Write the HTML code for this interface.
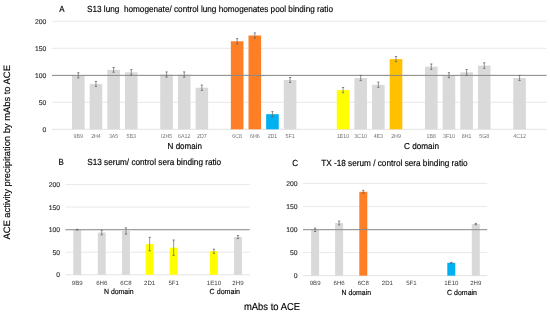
<!DOCTYPE html>
<html><head><meta charset="utf-8"><style>
html,body{margin:0;padding:0;background:#fff;}
body{width:550px;height:314px;overflow:hidden;}
svg{display:block;will-change:transform;filter:blur(0.3px);}
text{font-family:"Liberation Sans",sans-serif;text-rendering:geometricPrecision;}
.t{stroke:#000;stroke-width:0.15px;}
</style></head><body>
<svg width="550" height="314" viewBox="0 0 550 314">
<rect width="550" height="314" fill="#fff"/>
<line x1="52.00" y1="129.30" x2="546.50" y2="129.30" stroke="#e3e3e3" stroke-width="1"/>
<text x="46.40" y="131.75" font-size="6.8" fill="#333333" text-anchor="end" stroke="#333333" stroke-width="0.15">0</text>
<line x1="52.00" y1="102.30" x2="546.50" y2="102.30" stroke="#e3e3e3" stroke-width="0.8"/>
<text x="46.40" y="104.75" font-size="6.8" fill="#333333" text-anchor="end" stroke="#333333" stroke-width="0.15">50</text>
<line x1="52.00" y1="75.30" x2="546.50" y2="75.30" stroke="#e3e3e3" stroke-width="0.8"/>
<text x="46.40" y="77.75" font-size="6.8" fill="#333333" text-anchor="end" stroke="#333333" stroke-width="0.15">100</text>
<line x1="52.00" y1="48.30" x2="546.50" y2="48.30" stroke="#e3e3e3" stroke-width="0.8"/>
<text x="46.40" y="50.75" font-size="6.8" fill="#333333" text-anchor="end" stroke="#333333" stroke-width="0.15">150</text>
<line x1="52.00" y1="21.30" x2="546.50" y2="21.30" stroke="#e3e3e3" stroke-width="0.8"/>
<text x="46.40" y="23.75" font-size="6.8" fill="#333333" text-anchor="end" stroke="#333333" stroke-width="0.15">200</text>
<rect x="72.00" y="75.30" width="12.60" height="54.00" fill="#d9d9d9"/>
<text transform="translate(78.30,138) scale(0.9,1)" font-size="5.85" fill="#707070" text-anchor="middle">9B9</text>
<rect x="89.65" y="83.94" width="12.60" height="45.36" fill="#d9d9d9"/>
<text transform="translate(95.95,138) scale(0.9,1)" font-size="5.85" fill="#707070" text-anchor="middle">2H4</text>
<rect x="107.30" y="69.90" width="12.60" height="59.40" fill="#d9d9d9"/>
<text transform="translate(113.60,138) scale(0.9,1)" font-size="5.85" fill="#707070" text-anchor="middle">3A5</text>
<rect x="124.95" y="72.33" width="12.60" height="56.97" fill="#d9d9d9"/>
<text transform="translate(131.25,138) scale(0.9,1)" font-size="5.85" fill="#707070" text-anchor="middle">5B3</text>
<rect x="160.25" y="74.49" width="12.60" height="54.81" fill="#d9d9d9"/>
<text transform="translate(166.55,138) scale(0.9,1)" font-size="5.85" fill="#707070" text-anchor="middle">I2H5</text>
<rect x="177.90" y="74.49" width="12.60" height="54.81" fill="#d9d9d9"/>
<text transform="translate(184.20,138) scale(0.9,1)" font-size="5.85" fill="#707070" text-anchor="middle">6A12</text>
<rect x="195.55" y="87.72" width="12.60" height="41.58" fill="#d9d9d9"/>
<text transform="translate(201.85,138) scale(0.9,1)" font-size="5.85" fill="#707070" text-anchor="middle">2D7</text>
<rect x="230.85" y="41.28" width="12.60" height="88.02" fill="#ff7f27"/>
<text transform="translate(237.15,138) scale(0.9,1)" font-size="5.85" fill="#707070" text-anchor="middle">6C8</text>
<rect x="248.50" y="35.50" width="12.60" height="93.80" fill="#ff7f27"/>
<text transform="translate(254.80,138) scale(0.9,1)" font-size="5.85" fill="#707070" text-anchor="middle">6H6</text>
<rect x="266.15" y="114.18" width="12.60" height="15.12" fill="#00b0f0"/>
<text transform="translate(272.45,138) scale(0.9,1)" font-size="5.85" fill="#707070" text-anchor="middle">2D1</text>
<rect x="283.80" y="80.00" width="12.60" height="49.30" fill="#d9d9d9"/>
<text transform="translate(290.10,138) scale(0.9,1)" font-size="5.85" fill="#707070" text-anchor="middle">5F1</text>
<rect x="336.75" y="90.10" width="12.60" height="39.20" fill="#ffff00"/>
<text transform="translate(343.05,138) scale(0.9,1)" font-size="5.85" fill="#707070" text-anchor="middle">1E10</text>
<rect x="354.40" y="78.00" width="12.60" height="51.30" fill="#d9d9d9"/>
<text transform="translate(360.70,138) scale(0.9,1)" font-size="5.85" fill="#707070" text-anchor="middle">3C10</text>
<rect x="372.05" y="84.75" width="12.60" height="44.55" fill="#d9d9d9"/>
<text transform="translate(378.35,138) scale(0.9,1)" font-size="5.85" fill="#707070" text-anchor="middle">4E3</text>
<rect x="389.70" y="59.10" width="12.60" height="70.20" fill="#ffc000"/>
<text transform="translate(396.00,138) scale(0.9,1)" font-size="5.85" fill="#707070" text-anchor="middle">2H9</text>
<rect x="425.00" y="66.66" width="12.60" height="62.64" fill="#d9d9d9"/>
<text transform="translate(431.30,138) scale(0.9,1)" font-size="5.85" fill="#707070" text-anchor="middle">1B8</text>
<rect x="442.65" y="75.19" width="12.60" height="54.11" fill="#d9d9d9"/>
<text transform="translate(448.95,138) scale(0.9,1)" font-size="5.85" fill="#707070" text-anchor="middle">3F10</text>
<rect x="460.30" y="72.33" width="12.60" height="56.97" fill="#d9d9d9"/>
<text transform="translate(466.60,138) scale(0.9,1)" font-size="5.85" fill="#707070" text-anchor="middle">8H1</text>
<rect x="477.95" y="65.58" width="12.60" height="63.72" fill="#d9d9d9"/>
<text transform="translate(484.25,138) scale(0.9,1)" font-size="5.85" fill="#707070" text-anchor="middle">5G8</text>
<rect x="513.25" y="78.00" width="12.60" height="51.30" fill="#d9d9d9"/>
<text transform="translate(519.55,138) scale(0.9,1)" font-size="5.85" fill="#707070" text-anchor="middle">4C12</text>
<line x1="52.00" y1="75.40" x2="546.50" y2="75.40" stroke="#8a8a8a" stroke-width="1.0"/>
<line x1="78.30" y1="72.72" x2="78.30" y2="77.88" stroke="#666666" stroke-width="0.7"/>
<line x1="77.20" y1="72.72" x2="79.40" y2="72.72" stroke="#666666" stroke-width="0.8"/>
<line x1="77.20" y1="77.88" x2="79.40" y2="77.88" stroke="#666666" stroke-width="0.8"/>
<line x1="95.95" y1="81.46" x2="95.95" y2="86.42" stroke="#666666" stroke-width="0.7"/>
<line x1="94.85" y1="81.46" x2="97.05" y2="81.46" stroke="#666666" stroke-width="0.8"/>
<line x1="94.85" y1="86.42" x2="97.05" y2="86.42" stroke="#666666" stroke-width="0.8"/>
<line x1="113.60" y1="67.52" x2="113.60" y2="72.28" stroke="#666666" stroke-width="0.7"/>
<line x1="112.50" y1="67.52" x2="114.70" y2="67.52" stroke="#666666" stroke-width="0.8"/>
<line x1="112.50" y1="72.28" x2="114.70" y2="72.28" stroke="#666666" stroke-width="0.8"/>
<line x1="131.25" y1="69.66" x2="131.25" y2="75.00" stroke="#666666" stroke-width="0.7"/>
<line x1="130.15" y1="69.66" x2="132.35" y2="69.66" stroke="#666666" stroke-width="0.8"/>
<line x1="130.15" y1="75.00" x2="132.35" y2="75.00" stroke="#666666" stroke-width="0.8"/>
<line x1="166.55" y1="71.91" x2="166.55" y2="77.07" stroke="#666666" stroke-width="0.7"/>
<line x1="165.45" y1="71.91" x2="167.65" y2="71.91" stroke="#666666" stroke-width="0.8"/>
<line x1="165.45" y1="77.07" x2="167.65" y2="77.07" stroke="#666666" stroke-width="0.8"/>
<line x1="184.20" y1="71.91" x2="184.20" y2="77.07" stroke="#666666" stroke-width="0.7"/>
<line x1="183.10" y1="71.91" x2="185.30" y2="71.91" stroke="#666666" stroke-width="0.8"/>
<line x1="183.10" y1="77.07" x2="185.30" y2="77.07" stroke="#666666" stroke-width="0.8"/>
<line x1="201.85" y1="85.10" x2="201.85" y2="90.34" stroke="#666666" stroke-width="0.7"/>
<line x1="200.75" y1="85.10" x2="202.95" y2="85.10" stroke="#666666" stroke-width="0.8"/>
<line x1="200.75" y1="90.34" x2="202.95" y2="90.34" stroke="#666666" stroke-width="0.8"/>
<line x1="237.15" y1="38.66" x2="237.15" y2="43.90" stroke="#666666" stroke-width="0.7"/>
<line x1="236.05" y1="38.66" x2="238.25" y2="38.66" stroke="#666666" stroke-width="0.8"/>
<line x1="236.05" y1="43.90" x2="238.25" y2="43.90" stroke="#666666" stroke-width="0.8"/>
<line x1="254.80" y1="32.93" x2="254.80" y2="38.08" stroke="#666666" stroke-width="0.7"/>
<line x1="253.70" y1="32.93" x2="255.90" y2="32.93" stroke="#666666" stroke-width="0.8"/>
<line x1="253.70" y1="38.08" x2="255.90" y2="38.08" stroke="#666666" stroke-width="0.8"/>
<line x1="272.45" y1="111.65" x2="272.45" y2="116.71" stroke="#666666" stroke-width="0.7"/>
<line x1="271.35" y1="111.65" x2="273.55" y2="111.65" stroke="#666666" stroke-width="0.8"/>
<line x1="271.35" y1="116.71" x2="273.55" y2="116.71" stroke="#666666" stroke-width="0.8"/>
<line x1="290.10" y1="77.52" x2="290.10" y2="82.48" stroke="#666666" stroke-width="0.7"/>
<line x1="289.00" y1="77.52" x2="291.20" y2="77.52" stroke="#666666" stroke-width="0.8"/>
<line x1="289.00" y1="82.48" x2="291.20" y2="82.48" stroke="#666666" stroke-width="0.8"/>
<line x1="343.05" y1="87.47" x2="343.05" y2="92.72" stroke="#666666" stroke-width="0.7"/>
<line x1="341.95" y1="87.47" x2="344.15" y2="87.47" stroke="#666666" stroke-width="0.8"/>
<line x1="341.95" y1="92.72" x2="344.15" y2="92.72" stroke="#666666" stroke-width="0.8"/>
<line x1="360.70" y1="75.42" x2="360.70" y2="80.58" stroke="#666666" stroke-width="0.7"/>
<line x1="359.60" y1="75.42" x2="361.80" y2="75.42" stroke="#666666" stroke-width="0.8"/>
<line x1="359.60" y1="80.58" x2="361.80" y2="80.58" stroke="#666666" stroke-width="0.8"/>
<line x1="378.35" y1="82.13" x2="378.35" y2="87.37" stroke="#666666" stroke-width="0.7"/>
<line x1="377.25" y1="82.13" x2="379.45" y2="82.13" stroke="#666666" stroke-width="0.8"/>
<line x1="377.25" y1="87.37" x2="379.45" y2="87.37" stroke="#666666" stroke-width="0.8"/>
<line x1="396.00" y1="56.52" x2="396.00" y2="61.68" stroke="#666666" stroke-width="0.7"/>
<line x1="394.90" y1="56.52" x2="397.10" y2="56.52" stroke="#666666" stroke-width="0.8"/>
<line x1="394.90" y1="61.68" x2="397.10" y2="61.68" stroke="#666666" stroke-width="0.8"/>
<line x1="431.30" y1="63.99" x2="431.30" y2="69.33" stroke="#666666" stroke-width="0.7"/>
<line x1="430.20" y1="63.99" x2="432.40" y2="63.99" stroke="#666666" stroke-width="0.8"/>
<line x1="430.20" y1="69.33" x2="432.40" y2="69.33" stroke="#666666" stroke-width="0.8"/>
<line x1="448.95" y1="72.66" x2="448.95" y2="77.72" stroke="#666666" stroke-width="0.7"/>
<line x1="447.85" y1="72.66" x2="450.05" y2="72.66" stroke="#666666" stroke-width="0.8"/>
<line x1="447.85" y1="77.72" x2="450.05" y2="77.72" stroke="#666666" stroke-width="0.8"/>
<line x1="466.60" y1="69.51" x2="466.60" y2="75.15" stroke="#666666" stroke-width="0.7"/>
<line x1="465.50" y1="69.51" x2="467.70" y2="69.51" stroke="#666666" stroke-width="0.8"/>
<line x1="465.50" y1="75.15" x2="467.70" y2="75.15" stroke="#666666" stroke-width="0.8"/>
<line x1="484.25" y1="62.81" x2="484.25" y2="68.35" stroke="#666666" stroke-width="0.7"/>
<line x1="483.15" y1="62.81" x2="485.35" y2="62.81" stroke="#666666" stroke-width="0.8"/>
<line x1="483.15" y1="68.35" x2="485.35" y2="68.35" stroke="#666666" stroke-width="0.8"/>
<line x1="519.55" y1="75.52" x2="519.55" y2="80.48" stroke="#666666" stroke-width="0.7"/>
<line x1="518.45" y1="75.52" x2="520.65" y2="75.52" stroke="#666666" stroke-width="0.8"/>
<line x1="518.45" y1="80.48" x2="520.65" y2="80.48" stroke="#666666" stroke-width="0.8"/>
<line x1="65.50" y1="274.80" x2="249.70" y2="274.80" stroke="#e3e3e3" stroke-width="1"/>
<text x="60.00" y="277.25" font-size="6.8" fill="#333333" text-anchor="end" stroke="#333333" stroke-width="0.15">0</text>
<line x1="65.50" y1="252.23" x2="249.70" y2="252.23" stroke="#e3e3e3" stroke-width="0.8"/>
<text x="60.00" y="254.67" font-size="6.8" fill="#333333" text-anchor="end" stroke="#333333" stroke-width="0.15">50</text>
<line x1="65.50" y1="229.65" x2="249.70" y2="229.65" stroke="#e3e3e3" stroke-width="0.8"/>
<text x="60.00" y="232.10" font-size="6.8" fill="#333333" text-anchor="end" stroke="#333333" stroke-width="0.15">100</text>
<line x1="65.50" y1="207.07" x2="249.70" y2="207.07" stroke="#e3e3e3" stroke-width="0.8"/>
<text x="60.00" y="209.52" font-size="6.8" fill="#333333" text-anchor="end" stroke="#333333" stroke-width="0.15">150</text>
<line x1="65.50" y1="184.50" x2="249.70" y2="184.50" stroke="#e3e3e3" stroke-width="0.8"/>
<text x="60.00" y="186.95" font-size="6.8" fill="#333333" text-anchor="end" stroke="#333333" stroke-width="0.15">200</text>
<rect x="73.30" y="229.65" width="7.90" height="45.15" fill="#d9d9d9"/>
<text x="77.25" y="284.50" font-size="6.1" fill="#404040" text-anchor="middle" >9B9</text>
<rect x="97.80" y="232.49" width="7.90" height="42.31" fill="#d9d9d9"/>
<text x="101.75" y="284.50" font-size="6.1" fill="#404040" text-anchor="middle" >6H6</text>
<rect x="122.00" y="231.00" width="7.90" height="43.80" fill="#d9d9d9"/>
<text x="125.95" y="284.50" font-size="6.1" fill="#404040" text-anchor="middle" >6C8</text>
<rect x="145.70" y="244.10" width="7.90" height="30.70" fill="#ffff00"/>
<text x="149.65" y="284.50" font-size="6.1" fill="#404040" text-anchor="middle" >2D1</text>
<rect x="169.70" y="247.71" width="7.90" height="27.09" fill="#ffff00"/>
<text x="173.65" y="284.50" font-size="6.1" fill="#404040" text-anchor="middle" >5F1</text>
<rect x="210.00" y="251.19" width="7.90" height="23.61" fill="#ffff00"/>
<text x="213.95" y="284.50" font-size="6.1" fill="#404040" text-anchor="middle" >1E10</text>
<rect x="234.00" y="237.01" width="7.90" height="37.79" fill="#d9d9d9"/>
<text x="237.95" y="284.50" font-size="6.1" fill="#404040" text-anchor="middle" >2H9</text>
<line x1="65.50" y1="229.75" x2="249.70" y2="229.75" stroke="#8a8a8a" stroke-width="1.0"/>
<line x1="77.25" y1="229.29" x2="77.25" y2="230.01" stroke="#666666" stroke-width="0.7"/>
<line x1="76.15" y1="229.29" x2="78.35" y2="229.29" stroke="#666666" stroke-width="0.8"/>
<line x1="76.15" y1="230.01" x2="78.35" y2="230.01" stroke="#666666" stroke-width="0.8"/>
<line x1="101.75" y1="230.24" x2="101.75" y2="234.75" stroke="#666666" stroke-width="0.7"/>
<line x1="100.65" y1="230.24" x2="102.85" y2="230.24" stroke="#666666" stroke-width="0.8"/>
<line x1="100.65" y1="234.75" x2="102.85" y2="234.75" stroke="#666666" stroke-width="0.8"/>
<line x1="125.95" y1="227.84" x2="125.95" y2="234.17" stroke="#666666" stroke-width="0.7"/>
<line x1="124.85" y1="227.84" x2="127.05" y2="227.84" stroke="#666666" stroke-width="0.8"/>
<line x1="124.85" y1="234.17" x2="127.05" y2="234.17" stroke="#666666" stroke-width="0.8"/>
<line x1="149.65" y1="237.33" x2="149.65" y2="250.87" stroke="#666666" stroke-width="0.7"/>
<line x1="148.55" y1="237.33" x2="150.75" y2="237.33" stroke="#666666" stroke-width="0.8"/>
<line x1="148.55" y1="250.87" x2="150.75" y2="250.87" stroke="#666666" stroke-width="0.8"/>
<line x1="173.65" y1="240.03" x2="173.65" y2="255.39" stroke="#666666" stroke-width="0.7"/>
<line x1="172.55" y1="240.03" x2="174.75" y2="240.03" stroke="#666666" stroke-width="0.8"/>
<line x1="172.55" y1="255.39" x2="174.75" y2="255.39" stroke="#666666" stroke-width="0.8"/>
<line x1="213.95" y1="249.15" x2="213.95" y2="253.22" stroke="#666666" stroke-width="0.7"/>
<line x1="212.85" y1="249.15" x2="215.05" y2="249.15" stroke="#666666" stroke-width="0.8"/>
<line x1="212.85" y1="253.22" x2="215.05" y2="253.22" stroke="#666666" stroke-width="0.8"/>
<line x1="237.95" y1="235.52" x2="237.95" y2="238.50" stroke="#666666" stroke-width="0.7"/>
<line x1="236.85" y1="235.52" x2="239.05" y2="235.52" stroke="#666666" stroke-width="0.8"/>
<line x1="236.85" y1="238.50" x2="239.05" y2="238.50" stroke="#666666" stroke-width="0.8"/>
<line x1="303.00" y1="275.70" x2="487.20" y2="275.70" stroke="#e3e3e3" stroke-width="1"/>
<text x="297.50" y="278.15" font-size="6.8" fill="#333333" text-anchor="end" stroke="#333333" stroke-width="0.15">0</text>
<line x1="303.00" y1="252.65" x2="487.20" y2="252.65" stroke="#e3e3e3" stroke-width="0.8"/>
<text x="297.50" y="255.10" font-size="6.8" fill="#333333" text-anchor="end" stroke="#333333" stroke-width="0.15">50</text>
<line x1="303.00" y1="229.60" x2="487.20" y2="229.60" stroke="#e3e3e3" stroke-width="0.8"/>
<text x="297.50" y="232.05" font-size="6.8" fill="#333333" text-anchor="end" stroke="#333333" stroke-width="0.15">100</text>
<line x1="303.00" y1="206.55" x2="487.20" y2="206.55" stroke="#e3e3e3" stroke-width="0.8"/>
<text x="297.50" y="209.00" font-size="6.8" fill="#333333" text-anchor="end" stroke="#333333" stroke-width="0.15">150</text>
<line x1="303.00" y1="183.50" x2="487.20" y2="183.50" stroke="#e3e3e3" stroke-width="0.8"/>
<text x="297.50" y="185.95" font-size="6.8" fill="#333333" text-anchor="end" stroke="#333333" stroke-width="0.15">200</text>
<rect x="311.10" y="229.78" width="8.00" height="45.92" fill="#d9d9d9"/>
<text x="315.10" y="284.70" font-size="6.1" fill="#404040" text-anchor="middle" >9B9</text>
<rect x="335.10" y="223.01" width="8.00" height="52.69" fill="#d9d9d9"/>
<text x="339.10" y="284.70" font-size="6.1" fill="#404040" text-anchor="middle" >6H6</text>
<rect x="359.30" y="191.80" width="8.00" height="83.90" fill="#ff7f27"/>
<text x="363.30" y="284.70" font-size="6.1" fill="#404040" text-anchor="middle" >6C8</text>
<text x="387.40" y="284.70" font-size="6.1" fill="#404040" text-anchor="middle" >2D1</text>
<text x="411.50" y="284.70" font-size="6.1" fill="#404040" text-anchor="middle" >5F1</text>
<rect x="447.30" y="262.79" width="8.00" height="12.91" fill="#00b0f0"/>
<text x="451.30" y="284.70" font-size="6.1" fill="#404040" text-anchor="middle" >1E10</text>
<rect x="471.80" y="224.07" width="8.00" height="51.63" fill="#d9d9d9"/>
<text x="475.80" y="284.70" font-size="6.1" fill="#404040" text-anchor="middle" >2H9</text>
<line x1="303.00" y1="229.70" x2="487.20" y2="229.70" stroke="#8a8a8a" stroke-width="1.0"/>
<line x1="315.10" y1="228.08" x2="315.10" y2="231.49" stroke="#666666" stroke-width="0.7"/>
<line x1="314.00" y1="228.08" x2="316.20" y2="228.08" stroke="#666666" stroke-width="0.8"/>
<line x1="314.00" y1="231.49" x2="316.20" y2="231.49" stroke="#666666" stroke-width="0.8"/>
<line x1="339.10" y1="221.12" x2="339.10" y2="224.90" stroke="#666666" stroke-width="0.7"/>
<line x1="338.00" y1="221.12" x2="340.20" y2="221.12" stroke="#666666" stroke-width="0.8"/>
<line x1="338.00" y1="224.90" x2="340.20" y2="224.90" stroke="#666666" stroke-width="0.8"/>
<line x1="363.30" y1="190.32" x2="363.30" y2="193.27" stroke="#666666" stroke-width="0.7"/>
<line x1="362.20" y1="190.32" x2="364.40" y2="190.32" stroke="#666666" stroke-width="0.8"/>
<line x1="362.20" y1="193.27" x2="364.40" y2="193.27" stroke="#666666" stroke-width="0.8"/>
<line x1="451.30" y1="262.33" x2="451.30" y2="263.25" stroke="#666666" stroke-width="0.7"/>
<line x1="450.20" y1="262.33" x2="452.40" y2="262.33" stroke="#666666" stroke-width="0.8"/>
<line x1="450.20" y1="263.25" x2="452.40" y2="263.25" stroke="#666666" stroke-width="0.8"/>
<line x1="475.80" y1="223.38" x2="475.80" y2="224.76" stroke="#666666" stroke-width="0.7"/>
<line x1="474.70" y1="223.38" x2="476.90" y2="223.38" stroke="#666666" stroke-width="0.8"/>
<line x1="474.70" y1="224.76" x2="476.90" y2="224.76" stroke="#666666" stroke-width="0.8"/>
<text x="59.20" y="11.70" font-size="8.86" fill="#000" text-anchor="start" class="t" textLength="5.3" lengthAdjust="spacingAndGlyphs" >A</text>
<text x="87.00" y="11.70" font-size="8.86" fill="#000" text-anchor="start" class="t" textLength="246" lengthAdjust="spacingAndGlyphs" >S13 lung&#160; homogenate/ control lung homogenates pool binding ratio</text>
<text x="58.60" y="165.00" font-size="8.86" fill="#000" text-anchor="start" class="t" textLength="5.3" lengthAdjust="spacingAndGlyphs" >B</text>
<text x="87.20" y="165.00" font-size="8.86" fill="#000" text-anchor="start" class="t" textLength="134" lengthAdjust="spacingAndGlyphs" >S13 serum/ control sera binding ratio</text>
<text x="292.20" y="166.00" font-size="8.86" fill="#000" text-anchor="start" class="t" textLength="5.9" lengthAdjust="spacingAndGlyphs" >C</text>
<text x="321.20" y="166.00" font-size="8.86" fill="#000" text-anchor="start" class="t" textLength="146.4" lengthAdjust="spacingAndGlyphs" >TX -18 serum / control sera binding ratio</text>
<text x="167.60" y="149.00" font-size="8.64" fill="#000" text-anchor="start" class="t" textLength="34.4" lengthAdjust="spacingAndGlyphs" >N domain</text>
<text x="404.00" y="149.00" font-size="8.64" fill="#000" text-anchor="start" class="t" textLength="35" lengthAdjust="spacingAndGlyphs" >C domain</text>
<text x="104.00" y="294.00" font-size="7.45" fill="#000" text-anchor="start" class="t" textLength="29.6" lengthAdjust="spacingAndGlyphs" >N domain</text>
<text x="209.60" y="294.00" font-size="7.45" fill="#000" text-anchor="start" class="t" textLength="30.4" lengthAdjust="spacingAndGlyphs" >C domain</text>
<text x="341.60" y="294.60" font-size="7.45" fill="#000" text-anchor="start" class="t" textLength="29.4" lengthAdjust="spacingAndGlyphs" >N domain</text>
<text x="447.00" y="294.60" font-size="7.45" fill="#000" text-anchor="start" class="t" textLength="30" lengthAdjust="spacingAndGlyphs" >C domain</text>
<text x="244.00" y="310.30" font-size="10.04" fill="#000" text-anchor="start" class="t" textLength="56" lengthAdjust="spacingAndGlyphs" >mAbs to ACE</text>
<text class="t" transform="translate(10.1,239.6) rotate(-90)" x="0" y="0" font-size="9.3" fill="#000" textLength="174.5" lengthAdjust="spacingAndGlyphs">ACE activity precipitation by mAbs to ACE</text>
</svg>
</body></html>
